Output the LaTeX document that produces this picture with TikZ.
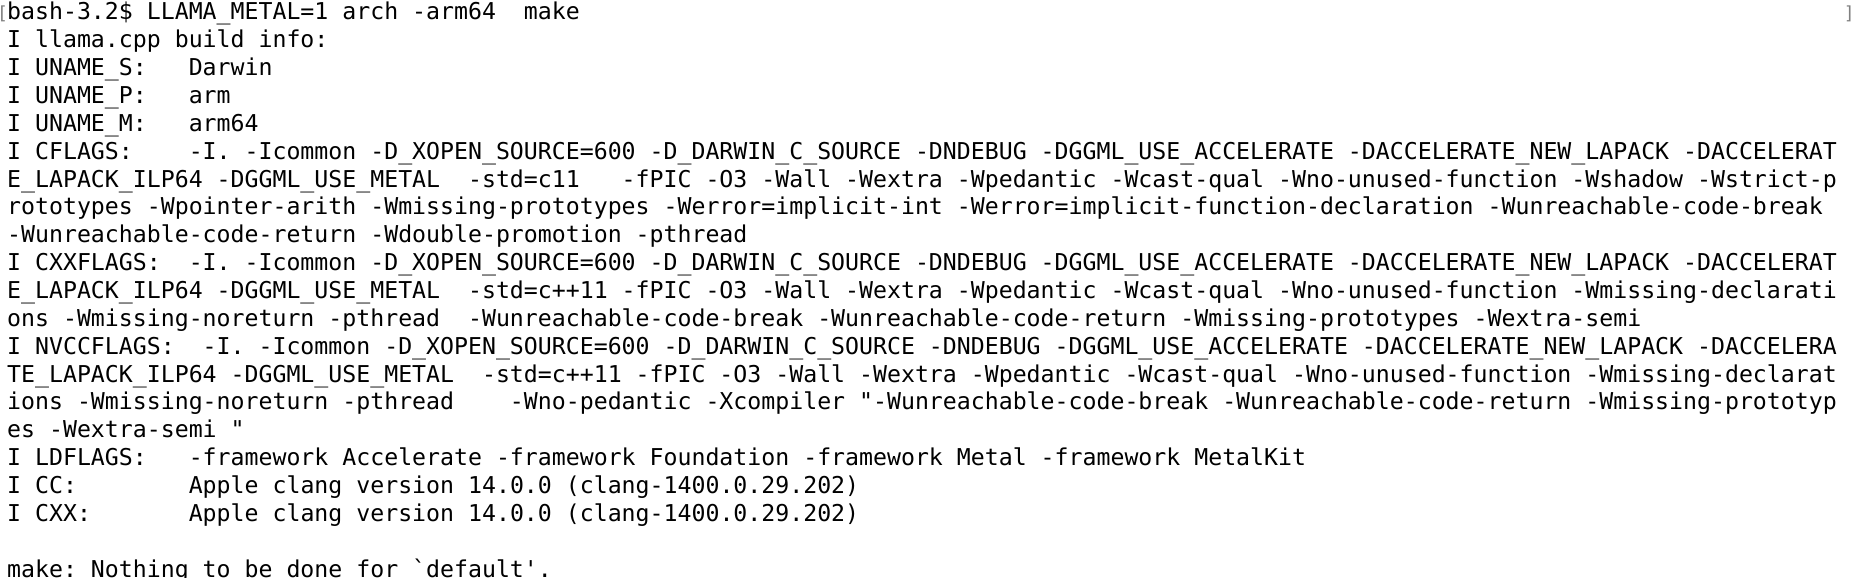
\documentclass[tikz,border=0pt]{standalone}
\usepackage{fontspec}
\setmonofont{DejaVu Sans Mono}
\begin{document}
\begin{tikzpicture}[x=1pt,y=-1pt,
  ln/.style={anchor=base west,inner sep=0pt,font=\ttfamily\fontsize{23.2}{27}\selectfont,text=black}]
\fill[white] (0,0) rectangle (1852,578);
\useasboundingbox (0,0) rectangle (1852,578);
\def\L#1#2{\node[ln] (l#1) at (7,{19.8+27.87*(#1-1)}) {#2};}
\L{1}{bash-3.2\$ LLAMA\_METAL=1 arch -arm64~~make}
\L{2}{I llama.cpp build info:}
\L{3}{I UNAME\_S:~~~Darwin}
\L{4}{I UNAME\_P:~~~arm}
\L{5}{I UNAME\_M:~~~arm64}
\L{6}{I CFLAGS:~~~~-I. -Icommon -D\_XOPEN\_SOURCE=600 -D\_DARWIN\_C\_SOURCE -DNDEBUG -DGGML\_USE\_ACCELERATE -DACCELERATE\_NEW\_LAPACK -DACCELERAT}
\L{7}{E\_LAPACK\_ILP64 -DGGML\_USE\_METAL~~-std=c11~~~-fPIC -O3 -Wall -Wextra -Wpedantic -Wcast-qual -Wno-unused-function -Wshadow -Wstrict-p}
\L{8}{rototypes -Wpointer-arith -Wmissing-prototypes -Werror=implicit-int -Werror=implicit-function-declaration -Wunreachable-code-break}
\L{9}{-Wunreachable-code-return -Wdouble-promotion -pthread}
\L{10}{I CXXFLAGS:~~-I. -Icommon -D\_XOPEN\_SOURCE=600 -D\_DARWIN\_C\_SOURCE -DNDEBUG -DGGML\_USE\_ACCELERATE -DACCELERATE\_NEW\_LAPACK -DACCELERAT}
\L{11}{E\_LAPACK\_ILP64 -DGGML\_USE\_METAL~~-std=c++11 -fPIC -O3 -Wall -Wextra -Wpedantic -Wcast-qual -Wno-unused-function -Wmissing-declarati}
\L{12}{ons -Wmissing-noreturn -pthread~~-Wunreachable-code-break -Wunreachable-code-return -Wmissing-prototypes -Wextra-semi}
\L{13}{I NVCCFLAGS:~~-I. -Icommon -D\_XOPEN\_SOURCE=600 -D\_DARWIN\_C\_SOURCE -DNDEBUG -DGGML\_USE\_ACCELERATE -DACCELERATE\_NEW\_LAPACK -DACCELERA}
\L{14}{TE\_LAPACK\_ILP64 -DGGML\_USE\_METAL~~-std=c++11 -fPIC -O3 -Wall -Wextra -Wpedantic -Wcast-qual -Wno-unused-function -Wmissing-declarat}
\L{15}{ions -Wmissing-noreturn -pthread~~~~-Wno-pedantic -Xcompiler "-Wunreachable-code-break -Wunreachable-code-return -Wmissing-prototyp}
\L{16}{es -Wextra-semi "}
\L{17}{I LDFLAGS:~~~-framework Accelerate -framework Foundation -framework Metal -framework MetalKit}
\L{18}{I CC:~~~~~~~~Apple clang version 14.0.0 (clang-1400.0.29.202)}
\L{19}{I CXX:~~~~~~~Apple clang version 14.0.0 (clang-1400.0.29.202)}
\L{21}{make: Nothing to be done for `default'.}
\node[anchor=base west,inner sep=0pt,font=\ttfamily\fontsize{18}{20}\selectfont,text=gray] (lb) at (-3,19.8) {[};
\node[anchor=base east,inner sep=0pt,font=\ttfamily\fontsize{18}{20}\selectfont,text=gray] (rb) at (1855,19.8) {]};
\end{tikzpicture}
\end{document}
